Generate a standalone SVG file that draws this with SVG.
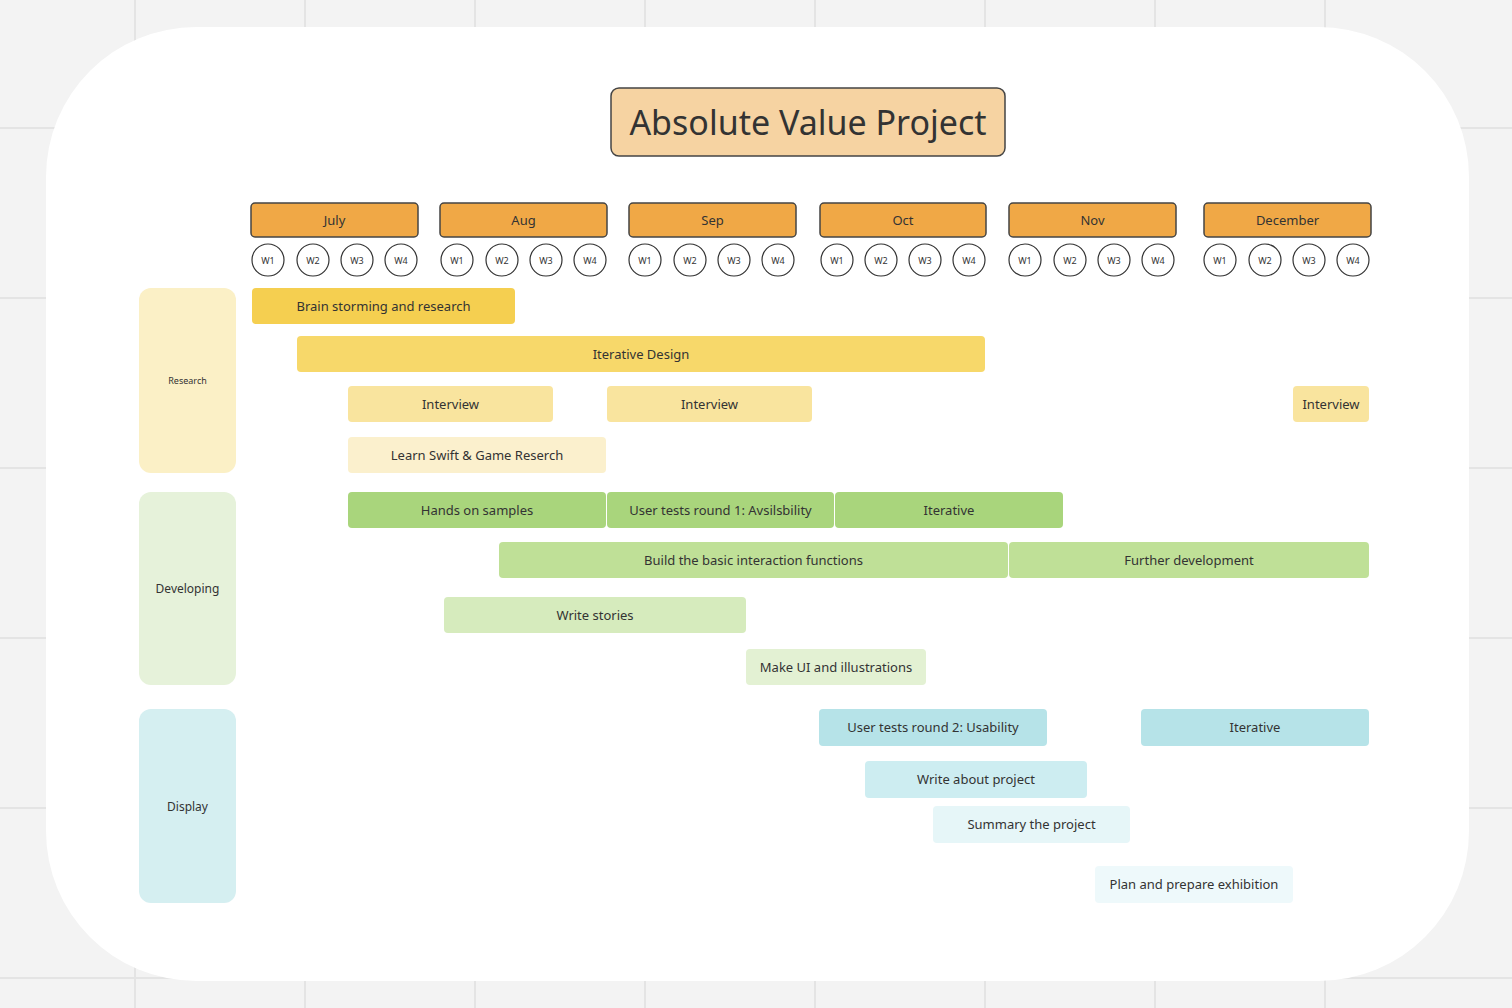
<svg xmlns="http://www.w3.org/2000/svg" width="1512" height="1008" viewBox="0 0 1512 1008">
<style>
text{font-family:"Noto Sans","Liberation Sans",sans-serif;fill:#333;text-anchor:middle;dominant-baseline:central}
.m{fill:#f0a846;stroke:#444;stroke-width:1.5}
.mt{font-size:13px}
.w{fill:#fff;stroke:#333;stroke-width:1.2}
.wt{font-size:9px}
.b{font-size:13px}
.lane{font-size:12px}
</style>
<rect width="1512" height="1008" fill="#f3f3f3"/>
<g stroke="#e4e4e4" stroke-width="2">
<path d="M135 0V1008M305 0V1008M475 0V1008M645 0V1008M815 0V1008M985 0V1008M1155 0V1008M1325 0V1008M0 128H1512M0 298H1512M0 468H1512M0 638H1512M0 808H1512M0 978H1512"/>
</g>
<rect x="46" y="27" width="1423" height="954" rx="150" fill="#fff"/>
<g id="title"><rect x="611" y="88" width="394" height="68" rx="8" fill="#f6d3a2" stroke="#444" stroke-width="1.5"/><text x="808" y="122" font-size="34" fill="#444">Absolute Value Project</text></g>
<g id="months">
<rect class="m" x="251" y="203" width="167" height="34" rx="4"/><text class="mt" x="334.5" y="220">July</text>
<rect class="m" x="440" y="203" width="167" height="34" rx="4"/><text class="mt" x="523.5" y="220">Aug</text>
<rect class="m" x="629" y="203" width="167" height="34" rx="4"/><text class="mt" x="712.5" y="220">Sep</text>
<rect class="m" x="820" y="203" width="166" height="34" rx="4"/><text class="mt" x="903" y="220">Oct</text>
<rect class="m" x="1009" y="203" width="167" height="34" rx="4"/><text class="mt" x="1092.5" y="220">Nov</text>
<rect class="m" x="1204" y="203" width="167" height="34" rx="4"/><text class="mt" x="1287.5" y="220">December</text>
</g>
<g id="weeks">
<circle class="w" cx="268" cy="260" r="16"/><text class="wt" x="268" y="260">W1</text>
<circle class="w" cx="313" cy="260" r="16"/><text class="wt" x="313" y="260">W2</text>
<circle class="w" cx="357" cy="260" r="16"/><text class="wt" x="357" y="260">W3</text>
<circle class="w" cx="401" cy="260" r="16"/><text class="wt" x="401" y="260">W4</text>
<circle class="w" cx="457" cy="260" r="16"/><text class="wt" x="457" y="260">W1</text>
<circle class="w" cx="502" cy="260" r="16"/><text class="wt" x="502" y="260">W2</text>
<circle class="w" cx="546" cy="260" r="16"/><text class="wt" x="546" y="260">W3</text>
<circle class="w" cx="590" cy="260" r="16"/><text class="wt" x="590" y="260">W4</text>
<circle class="w" cx="645" cy="260" r="16"/><text class="wt" x="645" y="260">W1</text>
<circle class="w" cx="690" cy="260" r="16"/><text class="wt" x="690" y="260">W2</text>
<circle class="w" cx="734" cy="260" r="16"/><text class="wt" x="734" y="260">W3</text>
<circle class="w" cx="778" cy="260" r="16"/><text class="wt" x="778" y="260">W4</text>
<circle class="w" cx="837" cy="260" r="16"/><text class="wt" x="837" y="260">W1</text>
<circle class="w" cx="881" cy="260" r="16"/><text class="wt" x="881" y="260">W2</text>
<circle class="w" cx="925" cy="260" r="16"/><text class="wt" x="925" y="260">W3</text>
<circle class="w" cx="969" cy="260" r="16"/><text class="wt" x="969" y="260">W4</text>
<circle class="w" cx="1025" cy="260" r="16"/><text class="wt" x="1025" y="260">W1</text>
<circle class="w" cx="1070" cy="260" r="16"/><text class="wt" x="1070" y="260">W2</text>
<circle class="w" cx="1114" cy="260" r="16"/><text class="wt" x="1114" y="260">W3</text>
<circle class="w" cx="1158" cy="260" r="16"/><text class="wt" x="1158" y="260">W4</text>
<circle class="w" cx="1220" cy="260" r="16"/><text class="wt" x="1220" y="260">W1</text>
<circle class="w" cx="1265" cy="260" r="16"/><text class="wt" x="1265" y="260">W2</text>
<circle class="w" cx="1309" cy="260" r="16"/><text class="wt" x="1309" y="260">W3</text>
<circle class="w" cx="1353" cy="260" r="16"/><text class="wt" x="1353" y="260">W4</text>
</g>
<g id="lanes">
<rect x="139" y="288" width="97" height="185" rx="12" fill="#fbf0c6"/><text x="187.5" y="380" font-size="9">Research</text>
<rect x="139" y="492" width="97" height="193" rx="12" fill="#e6f2da"/><text class="lane" x="187.5" y="588">Developing</text>
<rect x="139" y="709" width="97" height="194" rx="12" fill="#d5eff1"/><text class="lane" x="187.5" y="806">Display</text>
</g>
<g id="bars">
<rect x="252" y="288" width="263" height="36" rx="4" fill="#f5cf50"/><text class="b" x="383.5" y="306">Brain storming and research</text>
<rect x="297" y="336" width="688" height="36" rx="4" fill="#f7d86a"/><text class="b" x="641" y="354">Iterative Design</text>
<rect x="348" y="386" width="205" height="36" rx="4" fill="#f9e49e"/><text class="b" x="450.5" y="404">Interview</text>
<rect x="607" y="386" width="205" height="36" rx="4" fill="#f9e49e"/><text class="b" x="709.5" y="404">Interview</text>
<rect x="1293" y="386" width="76" height="36" rx="4" fill="#f9e49e"/><text class="b" x="1331" y="404">Interview</text>
<rect x="348" y="437" width="258" height="36" rx="4" fill="#fbf0cd"/><text class="b" x="477" y="455">Learn Swift &amp; Game Reserch</text>
<rect x="348" y="492" width="258" height="36" rx="4" fill="#a9d57c"/><text class="b" x="477" y="510">Hands on samples</text>
<rect x="607" y="492" width="227" height="36" rx="4" fill="#a9d57c"/><text class="b" x="720.5" y="510">User tests round 1: Avsilsbility</text>
<rect x="835" y="492" width="228" height="36" rx="4" fill="#a9d57c"/><text class="b" x="949" y="510">Iterative</text>
<rect x="499" y="542" width="509" height="36" rx="4" fill="#bfe097"/><text class="b" x="753.5" y="560">Build the basic interaction functions</text>
<rect x="1009" y="542" width="360" height="36" rx="4" fill="#bfe097"/><text class="b" x="1189" y="560">Further development</text>
<rect x="444" y="597" width="302" height="36" rx="4" fill="#d6ebbd"/><text class="b" x="595" y="615">Write stories</text>
<rect x="746" y="649" width="180" height="36" rx="4" fill="#e3f1d3"/><text class="b" x="836" y="667">Make UI and illustrations</text>
<rect x="819" y="709" width="228" height="37" rx="4" fill="#b6e3e8"/><text class="b" x="933" y="727">User tests round 2: Usability</text>
<rect x="1141" y="709" width="228" height="37" rx="4" fill="#b6e3e8"/><text class="b" x="1255" y="727">Iterative</text>
<rect x="865" y="761" width="222" height="37" rx="4" fill="#cdedf1"/><text class="b" x="976" y="779">Write about project</text>
<rect x="933" y="806" width="197" height="37" rx="4" fill="#e6f6f8"/><text class="b" x="1031.5" y="824">Summary the project</text>
<rect x="1095" y="866" width="198" height="37" rx="4" fill="#eef9fb"/><text class="b" x="1194" y="884">Plan and prepare exhibition</text>
</g>
<g id="connectors"/>
</svg>
